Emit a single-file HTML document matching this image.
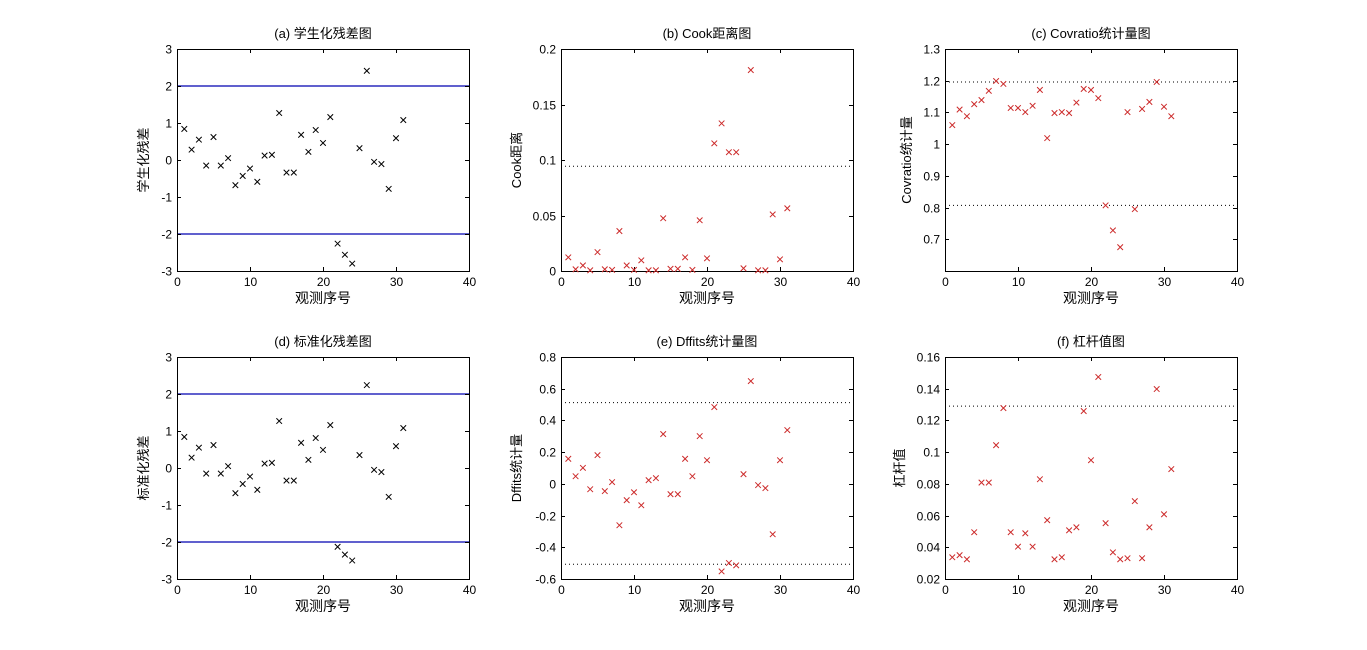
<!DOCTYPE html>
<html><head><meta charset="utf-8">
<style>
html,body{margin:0;padding:0;background:#fff;}
svg{display:block;font-family:"Liberation Sans","Noto Sans CJK SC",sans-serif;}
</style></head>
<body>
<svg id="fig" width="1367" height="650" viewBox="0 0 1367 650"></svg>
<script>
const obsIndex = [1,2,3,4,5,6,7,8,9,10,11,12,13,14,15,16,17,18,19,20,21,22,23,24,25,26,27,28,29,30,31];
const studentized = [0.84,0.28,0.55,-0.15,0.62,-0.15,0.05,-0.68,-0.43,-0.23,-0.59,0.12,0.14,1.27,-0.34,-0.34,0.68,0.22,0.81,0.46,1.16,-2.26,-2.56,-2.80,0.32,2.41,-0.05,-0.11,-0.78,0.59,1.08];
const cookD = [0.0123,0.0015,0.005,0.0006,0.017,0.0015,0.001,0.036,0.005,0.001,0.0096,0.0006,0.0006,0.0475,0.002,0.002,0.0123,0.001,0.0457,0.0114,0.115,0.133,0.107,0.107,0.0024,0.181,0.0006,0.0006,0.051,0.0105,0.0565];
const covratio = [1.06,1.109,1.088,1.126,1.139,1.168,1.199,1.19,1.114,1.114,1.101,1.121,1.171,1.019,1.098,1.101,1.098,1.131,1.174,1.171,1.145,0.807,0.728,0.675,1.101,0.795,1.111,1.133,1.196,1.118,1.088];
const standardized = [0.84,0.28,0.55,-0.15,0.62,-0.15,0.05,-0.68,-0.43,-0.23,-0.59,0.12,0.14,1.27,-0.34,-0.34,0.68,0.22,0.81,0.49,1.16,-2.13,-2.34,-2.50,0.35,2.24,-0.05,-0.11,-0.78,0.59,1.08];
const dffits = [0.158,0.048,0.101,-0.034,0.181,-0.046,0.011,-0.261,-0.103,-0.053,-0.135,0.023,0.036,0.314,-0.065,-0.065,0.158,0.048,0.301,0.149,0.484,-0.552,-0.499,-0.514,0.061,0.648,-0.008,-0.027,-0.318,0.149,0.339];
const leverage = [0.0337,0.035,0.0324,0.0495,0.0808,0.0808,0.1044,0.1278,0.0495,0.0404,0.0488,0.0404,0.0829,0.0571,0.0324,0.0337,0.0507,0.0526,0.1259,0.0949,0.1474,0.0552,0.0368,0.0324,0.0331,0.0691,0.0331,0.0526,0.1398,0.0608,0.0893];
const xTicks = [0,10,20,30,40];
const ticksA = [-3,-2,-1,0,1,2,3];
const ticksB = [0,0.05,0.1,0.15,0.2];
const ticksC = [0.7,0.8,0.9,1,1.1,1.2,1.3];
const ticksE = [-0.6,-0.4,-0.2,0,0.2,0.4,0.6,0.8];
const ticksF = [0.02,0.04,0.06,0.08,0.1,0.12,0.14,0.16];
const refA = [2,-2];
const refB = [0.0944];
const refC = [1.196,0.807];
const refE = [0.512,-0.507];
const refF = [0.129];

const NS="http://www.w3.org/2000/svg";
const svg=document.getElementById('fig');
function mk(tag,attrs,parent){const e=document.createElementNS(NS,tag);for(const k in attrs)e.setAttribute(k,attrs[k]);(parent||svg).appendChild(e);return e;}

const panels=[
 {id:'a',x0:177,y0:49,title:'(a) 学生化残差图',ylabel:'学生化残差',ymin:-3,ymax:3,ticks:ticksA,data:studentized,refs:refA,refStyle:'solid',color:'#000',ylx:148},
 {id:'b',x0:561,y0:49,title:'(b) Cook距离图',ylabel:'Cook距离',ymin:0,ymax:0.2,ticks:ticksB,data:cookD,refs:refB,refStyle:'dot',color:'#cc2a2a',ylx:521},
 {id:'c',x0:945,y0:49,title:'(c) Covratio统计量图',ylabel:'Covratio统计量',ymin:0.6,ymax:1.3,ticks:ticksC,data:covratio,refs:refC,refStyle:'dot',color:'#cc2a2a',ylx:911},
 {id:'d',x0:177,y0:357,title:'(d) 标准化残差图',ylabel:'标准化残差',ymin:-3,ymax:3,ticks:ticksA,data:standardized,refs:refA,refStyle:'solid',color:'#000',ylx:148},
 {id:'e',x0:561,y0:357,title:'(e) Dffits统计量图',ylabel:'Dffits统计量',ymin:-0.6,ymax:0.8,ticks:ticksE,data:dffits,refs:refE,refStyle:'dot',color:'#cc2a2a',ylx:521},
 {id:'f',x0:945,y0:357,title:'(f) 杠杆值图',ylabel:'杠杆值',ymin:0.02,ymax:0.16,ticks:ticksF,data:leverage,refs:refF,refStyle:'dot',color:'#cc2a2a',ylx:904}
];
const W=292,H=222;
panels.forEach(p=>{
  const g=mk('g',{});
  
  
  const sx=v=>p.x0+v/40*W;
  const sy=v=>p.y0+H-(v-p.ymin)/(p.ymax-p.ymin)*H;
  // ref lines
  p.refs.forEach(r=>{
    const l=mk('line',{x1:p.x0,x2:p.x0+W,y1:sy(r),y2:sy(r),stroke:p.refStyle==='solid'?'#0000b0':'#000','stroke-width':p.refStyle==='solid'?1.2:1,'stroke-dasharray':p.refStyle==='solid'?'none':'1 3'},g);
    
    
  });
  // box
  const b=mk('rect',{x:p.x0+0.5,y:p.y0+0.5,width:W,height:H,fill:'none',stroke:'#000','stroke-width':1},g);
  
  
  // x ticks
  xTicks.forEach(t=>{
    const x=Math.round(sx(t))+0.5;
    mk('line',{x1:x,x2:x,y1:p.y0+H,y2:p.y0+H-4,stroke:'#000'},g);
    mk('line',{x1:x,x2:x,y1:p.y0,y2:p.y0+4,stroke:'#000'},g);
    const tx=mk('text',{x:x,y:p.y0+H+15,'font-size':12,'text-anchor':'middle',fill:'#000'},g);
    tx.textContent=t;
    
    
  });
  p.ticks.forEach(t=>{
    const y=Math.round(sy(t))+0.5;
    mk('line',{x1:p.x0,x2:p.x0+4,y1:y,y2:y,stroke:'#000'},g);
    mk('line',{x1:p.x0+W,x2:p.x0+W-4,y1:y,y2:y,stroke:'#000'},g);
    const tx=mk('text',{x:p.x0-5,y:y+4,'font-size':12,'text-anchor':'end',fill:'#000'},g);
    tx.textContent=String(+t.toFixed(3));
    
    
  });
  // markers
  p.data.forEach((v,i)=>{
    const cx=sx(obsIndex[i]),cy=sy(v),s=2.8;
    const m=mk('path',{d:`M${cx-s},${cy-s}L${cx+s},${cy+s}M${cx-s},${cy+s}L${cx+s},${cy-s}`,stroke:p.color,'stroke-width':1,fill:'none'},g);
    
    
  });
  const ti=mk('text',{x:p.x0+W/2,y:p.y0-11,'font-size':13,'text-anchor':'middle',fill:'#000'},g);
  ti.textContent=p.title;
  
  
  const xl=mk('text',{x:p.x0+W/2,y:p.y0+H+32,'font-size':14,'text-anchor':'middle',fill:'#000'},g);
  xl.textContent='观测序号';
  
  
  const yc=p.y0+H/2;
  const yl=mk('text',{x:p.ylx,y:yc,'font-size':13,'text-anchor':'middle',fill:'#000',transform:`rotate(-90 ${p.ylx} ${yc})`},g);
  yl.textContent=p.ylabel;
  
  
});
</script>
</body></html>
